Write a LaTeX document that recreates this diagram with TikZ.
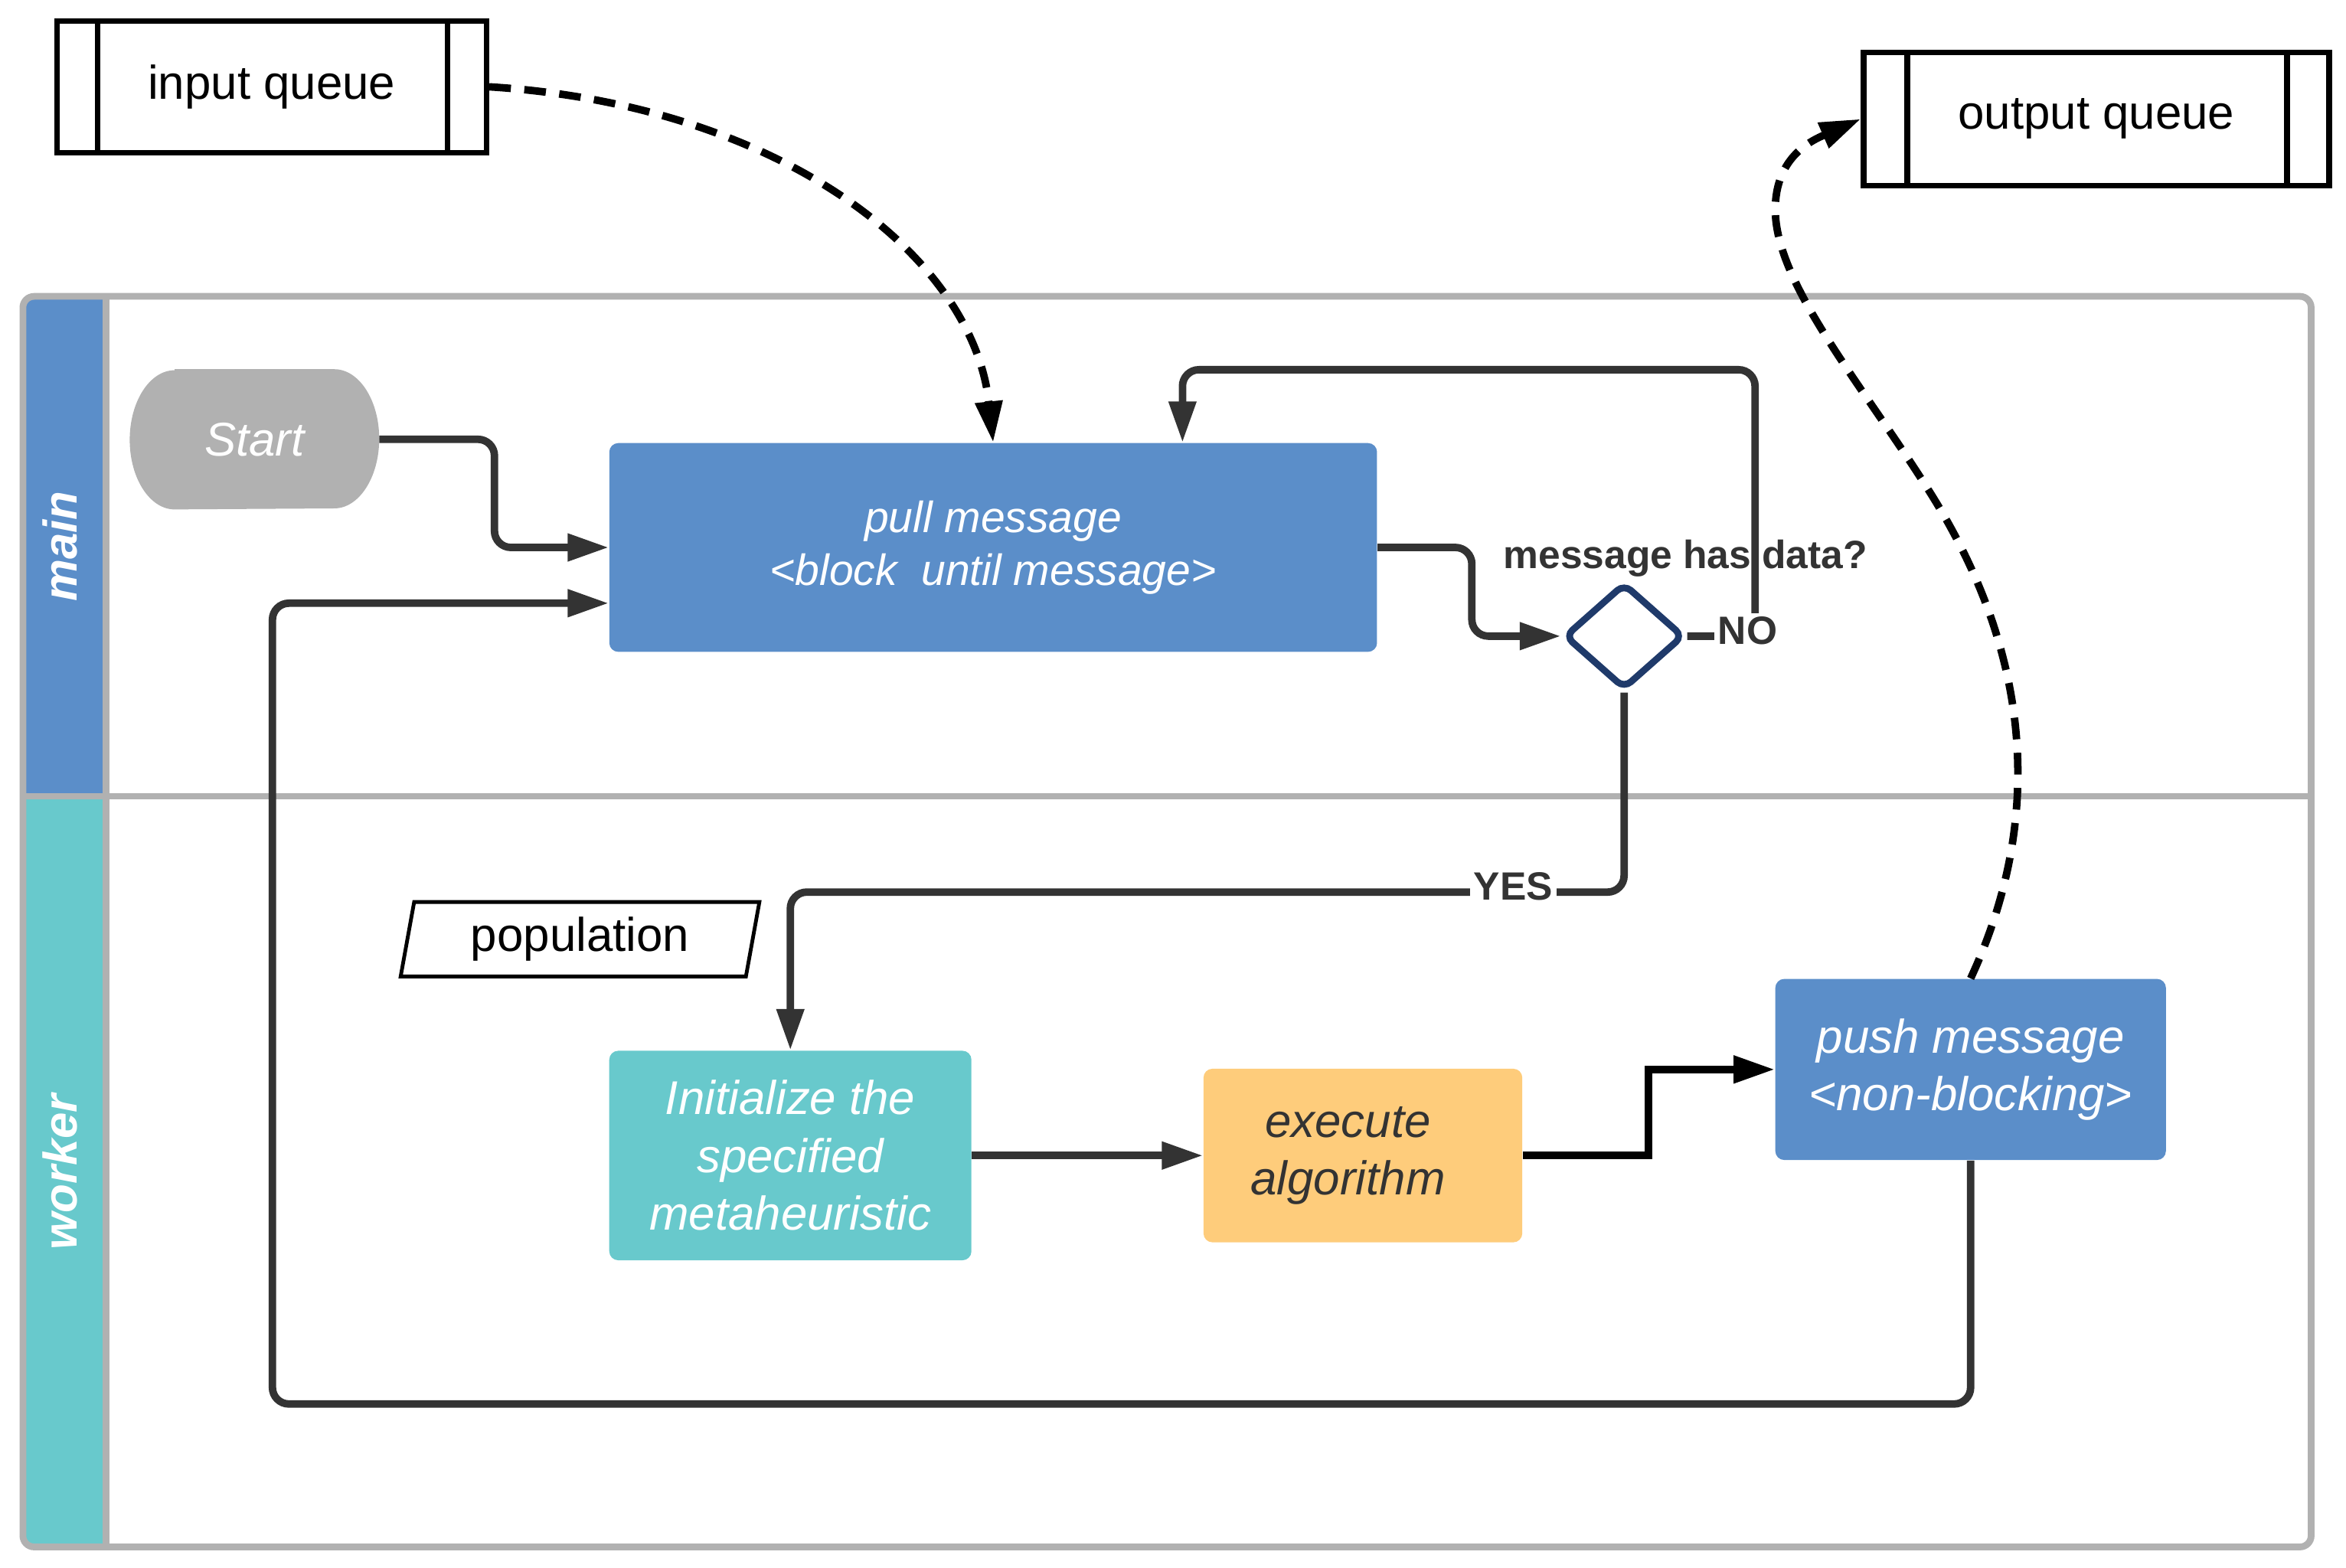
\documentclass[tikz,border=0pt]{standalone}
\usepackage{fontspec}
\setmainfont{Liberation Sans}
\usetikzlibrary{arrows.meta,shapes.geometric,calc}
\definecolor{laneblue}{HTML}{5B8EC9}
\definecolor{laneteal}{HTML}{68C9CC}
\definecolor{boxorange}{HTML}{FECC7B}
\definecolor{lanegray}{HTML}{B1B1B1}
\definecolor{startgray}{HTML}{B1B1B1}
\definecolor{linedark}{HTML}{333333}
\definecolor{navyline}{HTML}{1F3A6A}
\pgfdeclarelayer{bg}
\pgfsetlayers{bg,main}
\tikzset{
  endtri/.style={-{Triangle[length=0.55cm,width=0.35cm]}},
  conn/.style={draw=linedark, line width=0.1cm, rounded corners=0.22cm, endtri},
  sharpconn/.style={draw=black, line width=0.1cm, endtri},
  dashconn/.style={draw=black, line width=0.1cm, dash pattern=on 0.29cm off 0.18cm, endtri},
  flowbox/.style={rectangle, rounded corners=0.12cm, inner sep=0pt, align=center,
    font=\fontsize{18}{22}\selectfont\itshape, text=white},
  queuebox/.style={rectangle, draw=black, line width=0.075cm, inner sep=0pt,
    font=\fontsize{18}{22}\selectfont},
  lbl/.style={font=\fontsize{15}{18}\selectfont\bfseries, text=linedark, inner sep=1.5pt},
  lanetext/.style={rotate=90, text=white, font=\fontsize{18}{22}\selectfont\bfseries\itshape},
}
\begin{document}
\begin{tikzpicture}[x=0.02cm,y=-0.02cm]
\useasboundingbox (0,0) rectangle (1567.3,1047.1);

% swimlane
\begin{scope}
  \clip[rounded corners=0.15cm] (15.3,198) rectangle (1544,1033.5);
  \fill[laneblue] (15.3,198) rectangle (70.8,532);
  \fill[laneteal] (15.3,532) rectangle (70.8,1033.5);
\end{scope}
\draw[lanegray, line width=0.1cm] (70.8,198) -- (70.8,1033.5);
\draw[lanegray, line width=0.09cm] (15.3,532) -- (1544,532);
\draw[lanegray, line width=0.09cm, rounded corners=0.15cm] (15.3,198) rectangle (1544,1033.5);
\node[lanetext] (lmain) at (40,365) {main};
\node[lanetext] (lworker) at (40,783) {worker};

% queues
\node[queuebox, minimum width=5.74cm, minimum height=1.76cm] (inq) at (181.5,58) {input queue};
\draw[black, line width=0.075cm] ([xshift=0.58cm]inq.north west) -- ([xshift=0.58cm]inq.south west);
\draw[black, line width=0.075cm] ([xshift=-0.56cm]inq.north east) -- ([xshift=-0.56cm]inq.south east);
\node[queuebox, minimum width=6.22cm, minimum height=1.78cm] (outq) at (1400.5,79.5) {output queue};
\draw[black, line width=0.075cm] ([xshift=0.62cm]outq.north west) -- ([xshift=0.62cm]outq.south west);
\draw[black, line width=0.075cm] ([xshift=-0.6cm]outq.north east) -- ([xshift=-0.6cm]outq.south east);

% start
\node[flowbox, minimum width=3.32cm, minimum height=1.86cm] (start) at (170,293.5) {Start};
\begin{pgfonlayer}{bg}
\fill[startgray] ([xshift=0.6cm]start.north west) -- ([xshift=-0.6cm]start.north east)
  arc[start angle=90, end angle=-90, x radius=0.6cm, y radius=0.93cm]
  -- ([xshift=0.6cm]start.south west)
  arc[start angle=270, end angle=90, x radius=0.6cm, y radius=0.93cm] -- cycle;
\end{pgfonlayer}

% process boxes
\node[flowbox, fill=laneblue, minimum width=10.26cm, minimum height=2.79cm,
  font=\fontsize{16.6}{20}\selectfont\itshape] (pull) at (663.5,365.75)
  {pull message\\<block\ \ until message>};
\node[flowbox, fill=laneteal, minimum width=4.84cm, minimum height=2.8cm] (init) at (528,772)
  {Initialize the\\specified\\metaheuristic};
\node[flowbox, fill=boxorange, text=linedark, minimum width=4.26cm, minimum height=2.32cm] (exec) at (910.5,772)
  {execute\hspace*{0.4cm}\\algorithm\hspace*{0.4cm}};
\node[flowbox, fill=laneblue, minimum width=5.22cm, minimum height=2.42cm] (push) at (1316.5,714.5)
  {push message\\<non-blocking>};

% population data
\node[inner sep=0pt, minimum width=4.6cm, minimum height=0.98cm, font=\fontsize{18}{22}\selectfont] (pop) at (387.5,627.5) {population};
\draw[black, line width=0.05cm] ([xshift=0.09cm]pop.north west) -- ([xshift=0.09cm]pop.north east)
  -- ([xshift=-0.09cm]pop.south east) -- ([xshift=-0.09cm]pop.south west) -- cycle;

% decision
\node[diamond, draw=navyline, line width=0.09cm, fill=white, minimum width=1.6cm, minimum height=1.42cm,
  inner sep=0pt, rounded corners=0.12cm] (dia) at (1085,425) {};
\node[lbl, anchor=base] (qlbl) at (1126,380) {message has data?};

% connectors
\draw[conn] (start.east) -- ++(77,0) |- (pull.west);
\coordinate (loopBL) at (182,938);
\draw[conn] (push.south) |- (loopBL) |- ([yshift=-0.745cm]pull.west);
\draw[conn] (pull.east) -- ++(63,0) |- (dia.west);
\coordinate (noturn) at (1172.5,247);
\draw[conn] (dia.east) -| (noturn) -| ([xshift=2.53cm]pull.north);
\coordinate (yesturn) at (1085,596);
\draw[conn] (dia.south) -- (yesturn) -| (init.north);
\draw[conn] (init.east) -- (exec.west);
\draw[sharpconn] (exec.east) -- ++(83.8,0) |- (push.west);

\node[lbl, fill=white, anchor=base] (nolbl) at (1167.5,430.6) {NO};
\node[lbl, fill=white] (yeslbl) at (1011,592) {YES};

% message flows
\draw[dashconn] (inq.east) .. controls (520,70) and (650,170) .. (pull.north);
\draw[dashconn] (push.north) .. controls (1360,560) and (1365,450) .. (1290,330)
  .. controls (1245,258) and (1186,190) .. (1186,140)
  .. controls (1186,105) and (1210,94) .. (outq.west);
\end{tikzpicture}
\end{document}
